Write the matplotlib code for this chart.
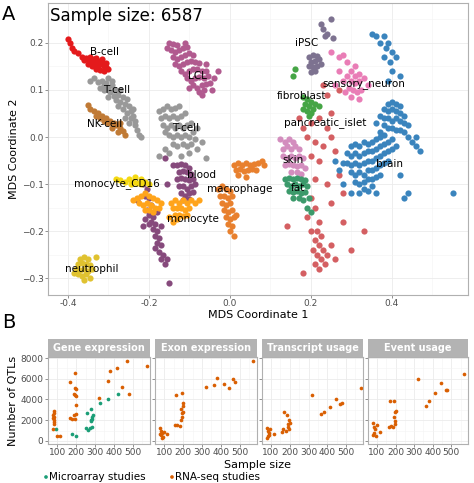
import matplotlib
matplotlib.use("Agg")
import matplotlib.pyplot as plt

# ---------------- Panel A data (cluster points, estimated) ----------------
bcell = [(-0.40,0.208),(-0.395,0.2),(-0.39,0.19),(-0.385,0.183),(-0.375,0.178),(-0.365,0.17),(-0.355,0.168),(-0.35,0.165),(-0.345,0.16),(-0.34,0.162),(-0.335,0.155),(-0.33,0.158),(-0.325,0.15),(-0.32,0.155),(-0.315,0.16),(-0.31,0.152),(-0.305,0.148),(-0.3,0.145),(-0.34,0.15),(-0.33,0.145),(-0.32,0.143),(-0.31,0.14),(-0.36,0.163),(-0.345,0.17),(-0.33,0.168),(-0.315,0.165),(-0.325,0.162),(-0.335,0.165),(-0.35,0.155),(-0.305,0.158)]
tcell1 = [(-0.345,0.12),(-0.335,0.125),(-0.325,0.118),(-0.315,0.12),(-0.305,0.115),(-0.3,0.105),(-0.29,0.11),(-0.28,0.1),(-0.27,0.1),(-0.275,0.09),(-0.285,0.088),(-0.295,0.095),(-0.31,0.1),(-0.32,0.105),(-0.265,0.085),(-0.255,0.08),(-0.26,0.07),(-0.27,0.075),(-0.28,0.078),(-0.25,0.065),(-0.245,0.055),(-0.24,0.045),(-0.235,0.035),(-0.255,0.05),(-0.265,0.06),(-0.275,0.065),(-0.245,0.04),(-0.25,0.03),(-0.235,0.025),(-0.23,0.015),(-0.26,0.04),(-0.29,0.12),(-0.30,0.125),(-0.31,0.11),(-0.285,0.1),(-0.3,0.085),(-0.24,0.06),(-0.225,0.005),(-0.22,0.0)]
nkcell = [(-0.35,0.068),(-0.345,0.06),(-0.335,0.055),(-0.325,0.05),(-0.315,0.045),(-0.305,0.04),(-0.295,0.035),(-0.285,0.03),(-0.28,0.025),(-0.27,0.02),(-0.265,0.012),(-0.26,0.005),(-0.275,0.01),(-0.29,0.02),(-0.3,0.03),(-0.31,0.035),(-0.32,0.04),(-0.33,0.045),(-0.27,0.03)]
lcl = [(-0.15,0.2),(-0.14,0.198),(-0.13,0.195),(-0.145,0.185),(-0.135,0.18),(-0.125,0.185),(-0.115,0.19),(-0.105,0.192),(-0.14,0.17),(-0.13,0.165),(-0.12,0.17),(-0.11,0.175),(-0.1,0.178),(-0.09,0.175),(-0.135,0.155),(-0.125,0.15),(-0.115,0.155),(-0.105,0.16),(-0.095,0.162),(-0.085,0.16),(-0.075,0.158),(-0.12,0.14),(-0.11,0.135),(-0.1,0.14),(-0.09,0.145),(-0.08,0.145),(-0.07,0.14),(-0.06,0.14),(-0.105,0.125),(-0.095,0.12),(-0.085,0.125),(-0.075,0.128),(-0.065,0.125),(-0.055,0.13),(-0.09,0.11),(-0.08,0.105),(-0.07,0.11),(-0.06,0.112),(-0.05,0.115),(-0.075,0.095),(-0.065,0.1),(-0.045,0.1),(-0.04,0.125),(-0.03,0.14),(-0.155,0.19),(-0.11,0.2),(-0.06,0.155),(-0.07,0.09),(-0.1,0.105)]
tcell2 = [(-0.175,0.055),(-0.165,0.06),(-0.155,0.065),(-0.145,0.06),(-0.135,0.062),(-0.125,0.065),(-0.17,0.04),(-0.16,0.045),(-0.15,0.04),(-0.14,0.045),(-0.13,0.04),(-0.12,0.045),(-0.11,0.05),(-0.165,0.025),(-0.155,0.02),(-0.145,0.025),(-0.135,0.02),(-0.125,0.025),(-0.115,0.02),(-0.105,0.025),(-0.095,0.03),(-0.15,0.005),(-0.14,0.0),(-0.13,0.005),(-0.12,0.0),(-0.11,0.005),(-0.1,0.0),(-0.09,0.01),(-0.14,-0.015),(-0.13,-0.02),(-0.115,-0.015),(-0.105,-0.02),(-0.095,-0.015),(-0.085,-0.005),(-0.16,-0.025),(-0.15,-0.035),(-0.12,-0.04),(-0.1,-0.035),(-0.08,-0.025),(-0.07,-0.01),(-0.175,-0.04),(-0.06,-0.045),(-0.16,0.01),(-0.08,0.02)]
blood = [(-0.13,-0.06),(-0.12,-0.058),(-0.11,-0.06),(-0.1,-0.065),(-0.125,-0.075),(-0.115,-0.072),(-0.105,-0.075),(-0.095,-0.078),(-0.13,-0.09),(-0.12,-0.088),(-0.11,-0.09),(-0.1,-0.092),(-0.09,-0.09),(-0.125,-0.105),(-0.115,-0.105),(-0.105,-0.11),(-0.095,-0.105),(-0.085,-0.1),(-0.12,-0.12),(-0.11,-0.125),(-0.1,-0.12),(-0.09,-0.118),(-0.115,-0.135),(-0.1,-0.132),
         (-0.215,-0.1),(-0.205,-0.11),(-0.21,-0.125),(-0.2,-0.13),(-0.195,-0.145),(-0.205,-0.155),(-0.2,-0.165),(-0.19,-0.17),(-0.195,-0.18),(-0.185,-0.185),(-0.19,-0.195),(-0.18,-0.2),(-0.185,-0.21),(-0.175,-0.215),(-0.18,-0.225),(-0.17,-0.23),(-0.175,-0.245),(-0.165,-0.25),(-0.17,-0.26),(-0.155,-0.26),(-0.15,-0.31),(-0.16,-0.27),(-0.21,-0.175),(-0.215,-0.19),(-0.18,-0.16),(-0.17,-0.19),(-0.2,-0.185),(-0.185,-0.235),(-0.155,-0.1),(-0.14,-0.06),(-0.16,-0.045),(-0.23,-0.135)]
mono16 = [(-0.28,-0.09),(-0.27,-0.092),(-0.26,-0.095),(-0.25,-0.09),(-0.24,-0.095),(-0.23,-0.098),(-0.22,-0.1),(-0.21,-0.095),(-0.235,-0.085),(-0.22,-0.09),(-0.245,-0.1),(-0.2,-0.1)]
monocyte = [(-0.23,-0.13),(-0.22,-0.125),(-0.21,-0.12),(-0.2,-0.125),(-0.19,-0.13),(-0.18,-0.135),(-0.17,-0.14),(-0.225,-0.14),(-0.215,-0.145),(-0.205,-0.14),(-0.195,-0.145),(-0.185,-0.15),(-0.175,-0.152),(-0.21,-0.155),(-0.2,-0.155),(-0.19,-0.16),(-0.24,-0.135),
            (-0.145,-0.14),(-0.135,-0.135),(-0.125,-0.14),(-0.115,-0.135),(-0.105,-0.14),(-0.095,-0.135),(-0.14,-0.15),(-0.13,-0.152),(-0.12,-0.15),(-0.11,-0.155),(-0.1,-0.15),(-0.085,-0.14),(-0.135,-0.165),(-0.125,-0.165),(-0.115,-0.168),(-0.105,-0.165),(-0.13,-0.175),(-0.14,-0.18),(-0.075,-0.135),(-0.15,-0.17)]
macro = [(-0.03,-0.11),(-0.02,-0.105),(-0.01,-0.11),(0.0,-0.115),(-0.025,-0.125),(-0.015,-0.125),(-0.005,-0.13),(0.005,-0.125),(-0.02,-0.14),(-0.01,-0.145),(0.0,-0.14),(-0.015,-0.155),(-0.005,-0.16),(0.005,-0.155),(-0.01,-0.17),(0.0,-0.175),(0.01,-0.17),(-0.005,-0.185),(0.005,-0.19),(0.0,-0.2),(0.01,-0.21),(0.015,-0.165),
         (0.01,-0.06),(0.02,-0.055),(0.03,-0.06),(0.04,-0.055),(0.05,-0.06),(0.06,-0.058),(0.015,-0.07),(0.025,-0.068),(0.035,-0.072),(0.045,-0.07),(0.055,-0.068),(0.07,-0.055),(0.08,-0.05),(0.085,-0.06),(0.02,-0.08),(0.04,-0.085),(0.065,-0.07)]
neutro = [(-0.37,-0.26),(-0.36,-0.255),(-0.35,-0.26),(-0.375,-0.27),(-0.365,-0.268),(-0.355,-0.27),(-0.345,-0.272),(-0.38,-0.28),(-0.37,-0.282),(-0.36,-0.28),(-0.35,-0.285),(-0.34,-0.28),(-0.375,-0.292),(-0.365,-0.295),(-0.355,-0.292),(-0.36,-0.305),(-0.345,-0.3),(-0.33,-0.255),(-0.385,-0.29)]
ipsc = [(0.195,0.17),(0.205,0.175),(0.215,0.172),(0.2,0.16),(0.21,0.162),(0.22,0.165),(0.195,0.15),(0.205,0.148),(0.215,0.152),(0.225,0.155),(0.21,0.14),(0.2,0.138),(0.225,0.24),(0.23,0.23),(0.24,0.22),(0.25,0.25),(0.235,0.215),(0.255,0.21)]
sensory = [(0.27,0.17),(0.28,0.175),(0.29,0.16),(0.3,0.14),(0.31,0.13),(0.32,0.135),(0.29,0.13),(0.3,0.12),(0.31,0.115),(0.32,0.12),(0.33,0.125),(0.28,0.12),(0.295,0.105),(0.305,0.1),(0.315,0.095),(0.325,0.1),(0.3,0.085),(0.27,0.14),(0.26,0.11),(0.34,0.11),(0.31,0.15),(0.285,0.095),(0.32,0.08),(0.25,0.18)]
fibro = [(0.18,0.085),(0.19,0.08),(0.2,0.075),(0.185,0.07),(0.195,0.065),(0.205,0.06),(0.18,0.06),(0.19,0.055),(0.2,0.05),(0.195,0.045),(0.16,0.145),(0.155,0.13),(0.21,0.07),(0.22,0.065)]
islet = [(0.17,0.04),(0.18,0.02),(0.2,0.03),(0.22,0.04),(0.25,0.05),(0.24,0.02),(0.19,0.0),(0.21,-0.01),(0.23,-0.02),(0.26,-0.03),(0.2,-0.04),(0.22,-0.05),(0.27,-0.08),(0.21,-0.09),(0.24,-0.1),(0.2,-0.13),(0.25,-0.14),(0.28,-0.12),(0.21,-0.15),(0.19,-0.17),(0.22,-0.18),(0.2,-0.2),(0.215,-0.2),(0.225,-0.21),(0.21,-0.22),(0.22,-0.23),(0.23,-0.24),(0.215,-0.25),(0.205,-0.24),(0.225,-0.26),(0.24,-0.25),(0.21,-0.27),(0.22,-0.28),(0.235,-0.27),(0.25,-0.23),(0.26,-0.26),(0.3,-0.24),(0.14,-0.19),(0.18,-0.29),(0.28,-0.18),(0.33,-0.2),(0.27,0.1),(0.24,0.09),(0.23,0.11),(0.25,0.0)]
skin = [(0.125,-0.005),(0.135,-0.01),(0.145,-0.005),(0.155,-0.01),(0.13,-0.025),(0.14,-0.02),(0.15,-0.025),(0.16,-0.02),(0.17,-0.025),(0.13,-0.04),(0.14,-0.045),(0.15,-0.04),(0.16,-0.045),(0.17,-0.04),(0.18,-0.045),(0.135,-0.06),(0.145,-0.058),(0.155,-0.06),(0.165,-0.062),(0.175,-0.06),(0.185,-0.065),(0.15,-0.075),(0.165,-0.075),(0.175,-0.078)]
fat = [(0.135,-0.09),(0.145,-0.088),(0.155,-0.09),(0.165,-0.088),(0.175,-0.09),(0.185,-0.092),(0.14,-0.1),(0.15,-0.105),(0.16,-0.1),(0.17,-0.105),(0.18,-0.1),(0.19,-0.105),(0.145,-0.115),(0.155,-0.118),(0.165,-0.115),(0.175,-0.12),(0.185,-0.118),(0.155,-0.13),(0.17,-0.13),(0.18,-0.135),(0.195,-0.13),(0.19,-0.15),(0.2,-0.16)]
brain = [(0.39,0.07),(0.4,0.075),(0.41,0.07),(0.42,0.065),(0.38,0.06),(0.39,0.055),(0.4,0.06),(0.41,0.055),(0.42,0.05),(0.43,0.045),(0.37,0.045),(0.38,0.04),(0.39,0.04),(0.4,0.035),(0.41,0.04),(0.42,0.035),(0.43,0.03),(0.44,0.025),(0.38,0.025),(0.39,0.02),(0.4,0.02),(0.41,0.015),(0.42,0.015),(0.43,0.01),(0.44,0.0),(0.45,-0.01),(0.46,-0.02),(0.36,0.03),(0.37,0.01),
         (0.3,-0.02),(0.31,-0.015),(0.32,-0.02),(0.33,-0.01),(0.34,-0.015),(0.35,-0.01),(0.36,-0.005),(0.37,0.0),(0.38,0.005),(0.29,-0.035),(0.3,-0.04),(0.31,-0.035),(0.32,-0.04),(0.33,-0.035),(0.34,-0.03),(0.35,-0.03),(0.36,-0.025),(0.37,-0.02),(0.38,-0.015),(0.39,-0.01),(0.4,-0.005),(0.28,-0.055),(0.29,-0.055),(0.3,-0.06),(0.31,-0.055),(0.32,-0.06),(0.33,-0.055),(0.34,-0.05),(0.35,-0.05),(0.36,-0.045),(0.37,-0.04),(0.38,-0.035),(0.39,-0.03),(0.4,-0.025),(0.41,-0.02),(0.3,-0.075),(0.31,-0.08),(0.32,-0.075),(0.33,-0.08),(0.34,-0.07),(0.35,-0.07),(0.36,-0.065),(0.37,-0.06),(0.38,-0.055),(0.39,-0.05),(0.31,-0.095),(0.32,-0.1),(0.33,-0.095),(0.34,-0.09),(0.35,-0.09),(0.36,-0.085),(0.37,-0.08),(0.33,-0.11),(0.34,-0.115),(0.35,-0.105),(0.32,-0.12),(0.36,-0.12),
         (0.35,0.22),(0.36,0.215),(0.38,0.215),(0.37,0.2),(0.385,0.19),(0.39,0.2),(0.4,0.18),(0.38,0.17),(0.395,0.16),(0.41,0.17),(0.4,0.14),(0.42,0.13),(0.39,0.12),(0.28,-0.1),(0.3,-0.12),(0.43,-0.13),(0.44,-0.12),(0.55,-0.12),(0.47,-0.03),(0.46,0.0),(0.26,-0.05),(0.27,-0.07),(0.42,-0.08)]

clusters = [
    (bcell, "#E41A1C"), (tcell1, "#999999"), (nkcell, "#C07A35"), (lcl, "#B15A8F"),
    (tcell2, "#999999"), (islet, "#D45F62"), (blood, "#864A7C"), (mono16, "#F5D912"),
    (monocyte, "#FFA41B"), (macro, "#E8802E"), (neutro, "#E0C230"), (ipsc, "#7D7290"),
    (sensory, "#E97DB6"), (fibro, "#45A545"), (skin, "#D38DBE"), (fat, "#3C9A6B"), (brain, "#3A84BD"),
]
labels = [("B-cell",-0.31,0.18),("T-cell",-0.28,0.1),("NK-cell",-0.31,0.027),("LCL",-0.08,0.13),
          ("T-cell",-0.11,0.02),("blood",-0.07,-0.08),("monocyte_CD16",-0.28,-0.1),("macrophage",0.025,-0.11),
          ("monocyte",-0.09,-0.175),("neutrophil",-0.34,-0.28),("iPSC",0.19,0.2),("sensory_neuron",0.33,0.11),
          ("fibroblast",0.177,0.087),("pancreatic_islet",0.235,0.03),("skin",0.155,-0.048),("fat",0.168,-0.108),("brain",0.395,-0.057)]

# ---------------- Panel B data ----------------
facets = ["Gene expression", "Exon expression", "Transcript usage", "Event usage"]
gene_rna = [(82,2900),(82,2700),(80,2500),(85,2300),(80,2200),(83,2000),(86,1800),(82,1600),(80,1100),(100,500),(115,500),
            (170,2200),(178,2100),(170,5700),(195,6600),(190,4500),(195,5100),(198,5000),(192,4400),(200,4300),(190,2500),(200,2600),(198,3500),(195,2100),
            (320,4150),(370,5750),(380,6750),(415,7050),(440,5250),(470,7700),(478,4500),(575,7250)]
gene_micro = [(95,1100),(180,700),(200,450),(260,2700),(255,1250),(265,1050),(275,1200),(280,3100),(285,1300),(278,1900),(282,2100),(285,2300),(288,2500),(280,2000),(325,3650),(370,4050),(420,4550)]
exon_rna = [(80,1200),(85,1000),(90,800),(85,600),(95,400),(90,300),(100,900),(80,700),(115,700),(160,1500),(165,4400),(170,1500),(185,1400),(190,2000),(195,4600),(190,3100),(195,2300),(200,3700),(198,3400),(200,2800),(195,2700),(320,5200),(365,5400),(380,6100),(415,5500),(440,5100),(465,6000),(475,5700),(570,7700)]
trans_rna = [(80,1200),(85,1000),(90,800),(85,500),(80,300),(95,1100),(90,600),(115,700),(160,900),(165,1100),(170,2800),(180,1000),(185,2500),(190,1300),(195,2000),(190,1600),(195,1100),(200,1700),(320,4400),(365,2600),(380,2800),(415,3300),(445,4000),(470,3600),(478,3700),(580,5100)]
event_rna = [(80,1700),(85,1300),(90,1100),(85,800),(80,600),(95,500),(100,1500),(115,900),(165,1300),(170,3900),(175,1400),(185,1300),(190,3900),(190,2300),(195,1900),(198,2800),(200,2900),(195,1600),(320,6000),(365,3400),(380,3900),(415,4600),(445,5600),(470,4900),(478,4900),(570,6500)]
rna_sets = [gene_rna, exon_rna, trans_rna, event_rna]
micro_sets = [gene_micro, [], [], []]
C_MICRO, C_RNA = "#1B9E77", "#D95F02"

W, H = 474, 483
fig = plt.figure(figsize=(W/100, H/100), dpi=100)
def ax_px(l, t, r, b):
    return fig.add_axes([l/W, 1-b/H, (r-l)/W, (b-t)/H])

GRID = "#EBEBEB"; TXT = "#4D4D4D"
def style(ax):
    ax.set_facecolor("white")
    ax.grid(True, which="major", color=GRID, lw=0.6)
    ax.set_axisbelow(True)
    for s in ax.spines.values():
        s.set_color("#B0B0B0"); s.set_linewidth(0.8)
    ax.tick_params(colors="#7F7F7F", labelcolor=TXT, labelsize=6.5, length=2, width=0.6, pad=1.2)

axA = ax_px(48, 3, 468, 295)
style(axA)
for pts, c in clusters:
    axA.scatter([p[0] for p in pts], [p[1] for p in pts], s=20, c=c, lw=0, zorder=2)
for t, x, y in labels:
    axA.text(x, y, t, fontsize=7.5, ha="center", va="center", zorder=3)
axA.set_xlim(-0.449, 0.588); axA.set_ylim(-0.336, 0.285)
axA.set_xticks([-0.4, -0.2, 0.0, 0.2, 0.4]); axA.set_xticklabels(["-0.4", "-0.2", "0.0", "0.2", "0.4"])
axA.set_yticks([-0.3, -0.2, -0.1, 0.0, 0.1, 0.2])
axA.set_xticks([-0.3, -0.1, 0.1, 0.3, 0.5], minor=True)
axA.set_yticks([-0.25, -0.15, -0.05, 0.05, 0.15, 0.25], minor=True)
axA.tick_params(which="minor", length=0)
axA.grid(True, which="minor", color="#F3F3F3", lw=0.4)
axA.set_xlabel("MDS Coordinate 1", fontsize=8, labelpad=1)
axA.set_ylabel("MDS Coordinate 2", fontsize=8, labelpad=2)
axA.text(0.005, 0.985, "Sample size: 6587", transform=axA.transAxes, fontsize=12, va="top", ha="left")
fig.text(2/W, 1-14/H, "A", fontsize=14, va="center")
fig.text(2/W, 1-322/H, "B", fontsize=14, va="center")

panels = [(48, 150), (155, 257), (262, 363), (368, 468)]
for i, (l, r) in enumerate(panels):
    ax = ax_px(l, 357, r, 444)
    style(ax)
    m = micro_sets[i]
    if m:
        ax.scatter([p[0] for p in m], [p[1] for p in m], s=7, c=C_MICRO, lw=0, zorder=2)
    rs = rna_sets[i]
    ax.scatter([p[0] for p in rs], [p[1] for p in rs], s=7, c=C_RNA, lw=0, zorder=2)
    ax.set_xlim(52, 590); ax.set_ylim(-300, 8100)
    ax.set_xticks([100, 200, 300, 400, 500])
    ax.set_xticks([150, 250, 350, 450, 550], minor=True)
    ax.set_yticks([0, 2000, 4000, 6000, 8000])
    ax.set_yticks([1000, 3000, 5000, 7000], minor=True)
    ax.tick_params(which="minor", length=0)
    ax.grid(True, which="minor", color="#F3F3F3", lw=0.4)
    if i > 0:
        ax.set_yticklabels([])
    else:
        ax.set_ylabel("Number of QTLs", fontsize=8, labelpad=2)
    sax = ax_px(l, 339, r, 357)
    sax.set_xticks([]); sax.set_yticks([])
    sax.set_facecolor("#B3B3B3")
    for s in sax.spines.values(): s.set_visible(False)
    sax.text(0.5, 0.5, facets[i], color="white", fontsize=7, fontweight="bold", ha="center", va="center", transform=sax.transAxes)

lax = fig.add_axes([0, 0, 1, 1], facecolor="none"); lax.set_axis_off()
lax.set_xlim(0, W); lax.set_ylim(H, 0)
lax.text(258, 465, "Sample size", fontsize=8, ha="center", va="center")
lax.scatter([46, 172], [477, 477], s=7, c=[C_MICRO, C_RNA], lw=0)
lax.text(49, 477, "Microarray studies", fontsize=7.5, va="center")
lax.text(175, 477, "RNA-seq studies", fontsize=7.5, va="center")

fig.savefig("out.png", dpi=100)
